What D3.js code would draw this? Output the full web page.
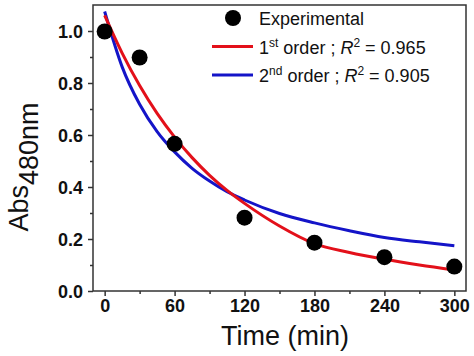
<!DOCTYPE html>
<html><head><meta charset="utf-8">
<script src="https://cdn.jsdelivr.net/npm/d3@7"></script>
<style>body{margin:0;background:#fff}svg{display:block}text{font-family:"Liberation Sans",Arial,sans-serif}</style>
</head><body>
<script>
const expTime = [0, 30, 60, 120, 180, 240, 300];
const expAbs = [0.998, 0.898, 0.566, 0.282, 0.186, 0.130, 0.094];
const fitTime = [0, 15, 30, 45, 60, 75, 90, 105, 120, 150, 180, 210, 240, 270, 300];
const firstOrder = [1.06, 0.915, 0.79, 0.683, 0.592, 0.513, 0.445, 0.387, 0.337, 0.25, 0.182, 0.148, 0.122, 0.1, 0.081];
const secondOrder = [1.075, 0.862, 0.718, 0.613, 0.535, 0.472, 0.423, 0.382, 0.350, 0.298, 0.262, 0.232, 0.206, 0.189, 0.174];
const xTicks = [0, 60, 120, 180, 240, 300];
const yTicks = [0.0, 0.2, 0.4, 0.6, 0.8, 1.0];
const xMinor = [30, 90, 150, 210, 270];
const yMinor = [0.1, 0.3, 0.5, 0.7, 0.9];

const W = 474, H = 356;
const m = {l: 93, t: 5, r: 466, b: 291};
const svg = d3.select("body").append("svg").attr("width", W).attr("height", H);
const x = d3.scaleLinear().domain([-10, 310]).range([m.l, m.r]);
const y = d3.scaleLinear().domain([0, 1.1]).range([m.b, m.t]);
const axisCol = "#333";

// frame
svg.append("rect").attr("x", m.l).attr("y", m.t).attr("width", m.r - m.l).attr("height", m.b - m.t)
  .attr("fill", "none").attr("stroke", axisCol).attr("stroke-width", 1.5);

const xAx = svg.append("g").attr("transform", `translate(0,${m.b})`)
  .call(d3.axisBottom(x).tickValues(xTicks).tickFormat(d3.format("d")).tickSize(5).tickPadding(3));
const xAxMin = svg.append("g").attr("transform", `translate(0,${m.b})`)
  .call(d3.axisBottom(x).tickValues(xMinor).tickFormat("").tickSize(3));
const yAx = svg.append("g").attr("transform", `translate(${m.l},0)`)
  .call(d3.axisLeft(y).tickValues(yTicks).tickFormat(d3.format(".1f")).tickSize(5).tickPadding(5));
const yAxMin = svg.append("g").attr("transform", `translate(${m.l},0)`)
  .call(d3.axisLeft(y).tickValues(yMinor).tickFormat("").tickSize(3));
[xAx, xAxMin, yAx, yAxMin].forEach(g => {
  g.select(".domain").remove();
  g.selectAll("line").attr("stroke", axisCol).attr("stroke-width", 1.5);
  g.selectAll("text").attr("font-size", 18).attr("font-weight", "bold").attr("fill", "#111")
    .attr("font-family", "Liberation Sans, Arial, sans-serif");
});
yAx.selectAll("text").attr("dy", "0.36em");

// curves
const line = d3.line().x((d, i) => x(fitTime[i])).y(d => y(d)).curve(d3.curveMonotoneX);
svg.append("path").attr("d", line(secondOrder)).attr("fill", "none").attr("stroke", "#1414c8").attr("stroke-width", 3);
svg.append("path").attr("d", line(firstOrder)).attr("fill", "none").attr("stroke", "#e3101a").attr("stroke-width", 3);

// points
svg.selectAll("circle.pt").data(expAbs).enter().append("circle").attr("class", "pt")
  .attr("cx", (d, i) => x(expTime[i])).attr("cy", d => y(d)).attr("r", 8).attr("fill", "#000");

// legend
const lg = svg.append("g").attr("font-size", 18).attr("fill", "#111");
lg.append("circle").attr("cx", 233).attr("cy", 18).attr("r", 8).attr("fill", "#000");
lg.append("text").attr("x", 259).attr("y", 25).text("Experimental");
lg.append("line").attr("x1", 212).attr("x2", 253).attr("y1", 46.5).attr("y2", 46.5).attr("stroke", "#e3101a").attr("stroke-width", 3);
lg.append("line").attr("x1", 212).attr("x2", 253).attr("y1", 75).attr("y2", 75).attr("stroke", "#1414c8").attr("stroke-width", 3);
function legText(yb, num, sup, r2) {
  const t = lg.append("text").attr("x", 259).attr("y", yb);
  t.append("tspan").text(num);
  t.append("tspan").attr("font-size", 12).attr("dy", -7).text(sup);
  t.append("tspan").attr("dy", 7).text(" order ; ");
  t.append("tspan").attr("font-style", "italic").text("R");
  t.append("tspan").attr("font-size", 12).attr("dy", -7).text("2");
  t.append("tspan").attr("dy", 7).text(" = " + r2);
}
legText(53.5, "1", "st", "0.965");
legText(82, "2", "nd", "0.905");

// axis titles
svg.append("text").attr("x", 285).attr("y", 345).attr("text-anchor", "middle")
  .attr("font-size", 27).attr("fill", "#111").text("Time (min)");
const yt = svg.append("text").attr("transform", "translate(28,167) rotate(-90)")
  .attr("text-anchor", "middle").attr("font-size", 27).attr("fill", "#111");
yt.append("tspan").text("Abs");
yt.append("tspan").attr("dy", 10).text("480nm");
</script>
</body></html>
